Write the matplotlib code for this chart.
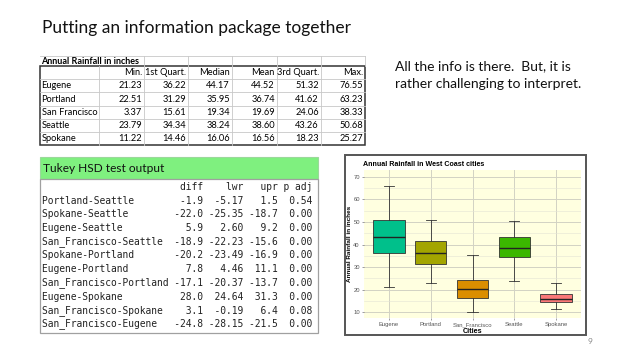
import matplotlib
matplotlib.use("Agg")
import matplotlib.pyplot as plt
from matplotlib.patches import Rectangle

# ---- data -------------------------------------------------------------
page_title = "Putting an information package together"
side_note = ["All the info is there.  But, it is", "rather challenging to interpret."]

table_title = "Annual Rainfall in inches"
table_cols = ["Min.", "1st Quart.", "Median", "Mean", "3rd Quart.", "Max."]
table_rows = ["Eugene", "Portland", "San Francisco", "Seattle", "Spokane"]
rain_min = [21.23, 22.51, 3.37, 23.79, 11.22]
rain_q1 = [36.22, 31.29, 15.61, 34.34, 14.46]
rain_median = [44.17, 35.95, 19.34, 38.24, 16.06]
rain_mean = [44.52, 36.74, 19.69, 38.60, 16.56]
rain_q3 = [51.32, 41.62, 24.06, 43.26, 18.23]
rain_max = [76.55, 63.23, 38.33, 50.68, 25.27]

tukey_pairs = ["Portland-Seattle", "Spokane-Seattle", "Eugene-Seattle",
               "San_Francisco-Seattle", "Spokane-Portland", "Eugene-Portland",
               "San_Francisco-Portland", "Eugene-Spokane",
               "San_Francisco-Spokane", "San_Francisco-Eugene"]
tukey_diff = [-1.9, -22.0, 5.9, -18.9, -20.2, 7.8, -17.1, 28.0, 3.1, -24.8]
tukey_lwr = [-5.17, -25.35, 2.60, -22.23, -23.49, 4.46, -20.37, 24.64, -0.19, -28.15]
tukey_upr = [1.5, -18.7, 9.2, -15.6, -16.9, 11.1, -13.7, 31.3, 6.4, -21.5]
tukey_padj = [0.54, 0.00, 0.00, 0.00, 0.00, 0.00, 0.00, 0.00, 0.08, 0.00]

# boxplot stats
cities = ["Eugene", "Portland", "San_Francisco", "Seattle", "Spokane"]
box_low = [21.3, 22.8, 10.3, 24.0, 11.3]
box_q1 = [36.3, 31.4, 16.2, 34.3, 14.6]
box_med = [43.5, 36.1, 20.4, 38.3, 16.1]
box_q3 = [51.0, 41.7, 24.2, 43.2, 18.3]
box_high = [65.7, 50.9, 35.4, 50.6, 22.8]
box_colors = ["#00C08B", "#A3A500", "#DB8E00", "#3BB700", "#FA7878"]

W, H = 638, 359
SANS = "Lato"
MONO = "DejaVu Sans Mono"
ARIAL = "Liberation Sans"

fig = plt.figure(figsize=(W / 100, H / 100), dpi=100)
bg = fig.add_axes([0, 0, 1, 1])
bg.set_xlim(0, W)
bg.set_ylim(H, 0)
bg.axis("off")

# title and side note
bg.text(42, 28, page_title, fontsize=12.5, family=SANS, va="center", color="#111111")
for i, line in enumerate(side_note):
    bg.text(395, 66 + i * 18, line, fontsize=10.0, family=SANS, va="center", color="#111111")

# ---- summary table ----------------------------------------------------
xs = [40, 99, 144, 188, 232, 277, 321, 365]
ys = [56, 66, 79.3, 92.3, 105.7, 118.7, 131.7, 145]
light = "#C8C8C8"
for x in xs[2:]:
    bg.plot([x, x], [ys[0], ys[1]], color=light, lw=0.6)
bg.plot([xs[0], xs[-1]], [ys[0], ys[0]], color=light, lw=0.6)
for x in xs[1:-1]:
    bg.plot([x, x], [ys[1], ys[-1]], color=light, lw=0.6)
for y in ys[2:-1]:
    bg.plot([xs[0], xs[-1]], [y, y], color=light, lw=0.6)
bg.add_patch(Rectangle((xs[0], ys[1]), xs[-1] - xs[0], ys[-1] - ys[1],
                       fill=False, ec="#333333", lw=1.1))
bg.text(41.5, (ys[0] + ys[1]) / 2, table_title, fontsize=6.5, family=SANS,
        weight="bold", va="center")
tsize = 6.7
for j, col in enumerate(table_cols):
    bg.text(xs[j + 2] - 2, (ys[1] + ys[2]) / 2, col, fontsize=tsize, family=SANS,
            ha="right", va="center")
columns = [rain_min, rain_q1, rain_median, rain_mean, rain_q3, rain_max]
for i, name in enumerate(table_rows):
    yc = (ys[i + 2] + ys[i + 3]) / 2
    bg.text(41.5, yc, name, fontsize=tsize, family=SANS, va="center")
    for j, vals in enumerate(columns):
        bg.text(xs[j + 2] - 2, yc, f"{vals[i]:.2f}", fontsize=tsize, family=SANS,
                ha="right", va="center")

# ---- Tukey output box -------------------------------------------------
bg.add_patch(Rectangle((40, 157), 278, 22, fc="#7FF07F", ec="#9BD89B", lw=0.8))
bg.add_patch(Rectangle((40, 179), 278, 154, fc="white", ec="#A0A0A0", lw=0.9))
bg.text(43, 168, "Tukey HSD test output", fontsize=8.6, family=SANS, va="center",
        color="#111111")
lines = [f"{'':<22} {'diff':>5} {'lwr':>6} {'upr':>5} {'p adj':>5}"]
for k in range(len(tukey_pairs)):
    lines.append(f"{tukey_pairs[k]:<22} {tukey_diff[k]:>5.1f} {tukey_lwr[k]:>6.2f} "
                 f"{tukey_upr[k]:>5.1f} {tukey_padj[k]:>5.2f}")
for k, line in enumerate(lines):
    bg.text(42.5, 187 + k * 13.7, line, fontsize=6.9, family=MONO, va="center",
            color="#222222")

# ---- boxplot image ----------------------------------------------------
bg.add_patch(Rectangle((345, 155), 241, 180, fc="white", ec="#555555", lw=1.4))
bg.text(363, 164, "Annual Rainfall in West Coast cities", fontsize=5.1,
        family=ARIAL, weight="bold", va="center")
bg.text(587, 342, "9", fontsize=6, family=SANS, color="#888888", va="center")

ax = fig.add_axes([364 / W, 1 - 318 / H, 217 / W, 148 / H])
ax.set_facecolor("#FFFFE0")
stats = []
for i, c in enumerate(cities):
    stats.append({"label": c, "whislo": box_low[i], "q1": box_q1[i], "med": box_med[i],
                  "q3": box_q3[i], "whishi": box_high[i], "fliers": []})
bp = ax.bxp(stats, positions=range(1, 6), widths=0.75, capwidths=0.25,
            patch_artist=True, showfliers=False,
            boxprops=dict(ec="#333333", lw=0.6),
            medianprops=dict(color="#222222", lw=1.0),
            whiskerprops=dict(color="#333333", lw=0.6),
            capprops=dict(color="#333333", lw=0.6))
for patch, col in zip(bp["boxes"], box_colors):
    patch.set_facecolor(col)
ax.set_xlim(0.4, 5.6)
ax.set_ylim(7.5, 73)
ax.set_yticks([10, 20, 30, 40, 50, 60, 70])
ax.set_yticks([15, 25, 35, 45, 55, 65], minor=True)
ax.grid(True, which="major", color="#D2D2C4", lw=0.7)
ax.grid(True, which="minor", axis="y", color="#E4E4D4", lw=0.4)
ax.set_axisbelow(True)
for s in ax.spines.values():
    s.set_visible(False)
ax.tick_params(axis="both", labelsize=4.2, colors="#555555", length=1.5, width=0.4,
               pad=1.5)
ax.tick_params(which="minor", length=0)
ax.set_xlabel("Cities", fontsize=5.2, weight="bold", family=ARIAL, labelpad=0.3)
ax.set_ylabel("Annual Rainfall in inches", fontsize=4.6, weight="bold",
              family=ARIAL, labelpad=0.6)
for lab in ax.get_xticklabels() + ax.get_yticklabels():
    lab.set_family(ARIAL)

fig.savefig("out.png", dpi=100)
